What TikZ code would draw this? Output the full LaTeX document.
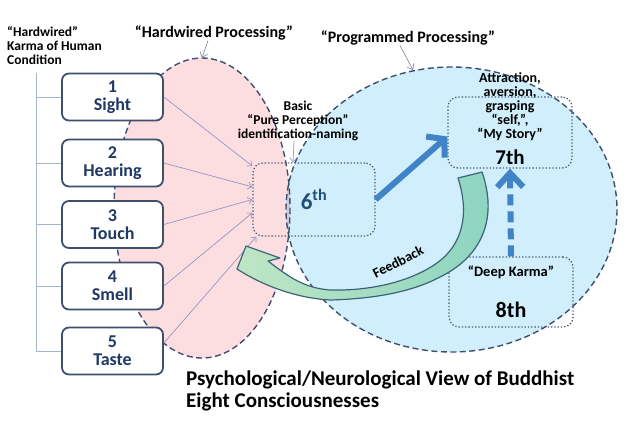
\documentclass[tikz,border=0pt]{standalone}
\usepackage{fontspec}
\setmainfont{Carlito}
\usetikzlibrary{arrows.meta,calc,shapes.geometric}
\definecolor{pinkfill}{RGB}{252,221,224}
\definecolor{bluefill}{RGB}{208,238,251}
\definecolor{ellline}{RGB}{62,80,112}
\definecolor{boxline}{RGB}{62,80,110}
\definecolor{navy}{RGB}{31,56,100}
\definecolor{sixblue}{RGB}{31,78,121}
\definecolor{arrowblue}{RGB}{64,131,198}
\definecolor{thinarrow}{RGB}{150,150,195}
\definecolor{bracketcol}{RGB}{166,180,200}
\definecolor{dotline}{RGB}{74,90,120}
\definecolor{fbdark}{RGB}{60,100,120}
\definecolor{fblight}{RGB}{190,230,196}
\definecolor{fbteal}{RGB}{140,212,192}
\begin{document}
\begin{tikzpicture}[x=1pt,y=-1pt,
  sense/.style={draw=boxline, line width=1.8pt, rounded corners=7pt, fill=white,
    minimum width=101pt, minimum height=47pt, align=center, text=navy,
    font=\bfseries\fontsize{18}{18}\selectfont, inner sep=0pt},
  dotbox/.style={draw=dotline, line width=1.3pt, dash pattern=on 1.3pt off 2pt, rounded corners=10pt},
  ellborder/.style={draw=ellline, line width=1.4pt, dash pattern=on 6pt off 3.5pt},
  thinarr/.style={draw=thinarrow, line width=0.7pt, -{Straight Barb[length=4pt,width=7pt]}},
  labelarr/.style={draw=ellline!70, line width=0.6pt, -{Straight Barb[length=5pt,width=8pt]}},
  bigarr/.style={draw=arrowblue, line width=6pt},
  lbl/.style={font=\bfseries\fontsize{14}{14}\selectfont, align=center, inner sep=0pt}
]
\useasboundingbox (0,0) rectangle (632,424);

% ellipses
\fill[pinkfill] (202,208) ellipse [x radius=88, y radius=150];
\begin{scope}[blend mode=multiply]
\fill[bluefill] (451.5,209.5) ellipse [x radius=165.5, y radius=142.5];
\end{scope}
\draw[ellborder] (202,208) ellipse [x radius=88, y radius=150];
\draw[ellborder] (451.5,209.5) ellipse [x radius=165.5, y radius=142.5];
\coordinate (pinktop) at (202,58);
\coordinate (bluept) at (413,70);

% sense boxes
\node[sense] (s1) at (112.5,97) {1\\Sight};
\node[sense] (s2) at (112.5,163) {2\\Hearing};
\node[sense] (s3) at (112.5,224.5) {3\\Touch};
\node[sense] (s4) at (112.5,286) {4\\Smell};
\node[sense] (s5) at (112.5,351) {5\\Taste};

% bracket
\coordinate (btop) at (36,73);
\draw[bracketcol, line width=1pt] (btop) -- (btop |- s5.west);
\foreach \s in {s1,s2,s3,s4,s5}
  \draw[bracketcol, line width=1pt] (btop |- \s.west) -- (\s.west);

% consciousness boxes
\node[dotbox, minimum width=122pt, minimum height=73pt, text=sixblue,
  font=\bfseries\fontsize{23}{24}\selectfont] (six) at (314,199.5) {6\textsuperscript{th}};
\node[dotbox, minimum width=124pt, minimum height=71pt] (sevenbox) at (510,132.5) {};
\node[dotbox, minimum width=124pt, minimum height=70pt] (eightbox) at (511,292) {};

\node[lbl, font=\bfseries\fontsize{21}{22}\selectfont] (seventh) at (510,157) {7th};
\node[lbl] (attr) at (510,107) {Attraction,\\aversion,\\grasping\\“self,”,\\“My Story”};
\node[lbl, font=\bfseries\fontsize{14.5}{15}\selectfont] (deep) at (511,272) {“Deep Karma”};
\node[lbl, font=\bfseries\fontsize{22}{22}\selectfont] (eighth) at (511,310) {8th};

% labels
\node[lbl, anchor=west, align=left, font=\bfseries\fontsize{13.5}{14}\selectfont] (hwk) at (7,46) {“Hardwired”\\Karma of Human\\Condition};
\node[lbl, font=\bfseries\fontsize{16}{16}\selectfont] (hwp) at (214,33) {“Hardwired Processing”};
\node[lbl, font=\bfseries\fontsize{16}{16}\selectfont] (pp) at (408,38) {“Programmed Processing”};
\node[lbl, font=\bfseries\fontsize{13.5}{14}\selectfont] (basic) at (298,121) {Basic\\“Pure Perception”\\identification-naming};
\node[lbl, anchor=west, align=left, font=\bfseries\fontsize{21}{22}\selectfont] (title) at (186,391)
  {Psychological/Neurological View of Buddhist\\Eight Consciousnesses};

% thin arrows
\draw[labelarr] ([xshift=-6pt]hwp.south) -- (pinktop);
\draw[labelarr] ([xshift=-8pt]pp.south) -- (bluept);
\draw[thinarr] ([xshift=-4pt]basic.south) -- ($(six.north west)!0.33!(six.north east)$);
\draw[thinarr] (s1.east) -- ($(six.north west)!0.05!(six.south west)$);
\draw[thinarr] (s2.east) -- ($(six.north west)!0.33!(six.south west)$);
\draw[thinarr] (s3.east) -- ($(six.north west)!0.5!(six.south west)$);
\draw[thinarr] (s4.east) -- ($(six.north west)!0.68!(six.south west)$);
\draw[thinarr] ([yshift=8pt]s5.east) -- ($(six.south west)+(4,0)$);

% blue arrows
\draw[bigarr, -{Straight Barb[length=12pt,width=28pt]}] (six.east) -- ([yshift=-4pt]sevenbox.west);
\draw[bigarr, dash pattern=on 11pt off 6pt, -{Straight Barb[length=14pt,width=26pt]}] (eightbox.north) -- (sevenbox.south);

% feedback arrow
\shadedraw[left color=fblight, right color=fbteal, draw=fbdark, line width=1.2pt, line join=round]
  (482,172) .. controls (497,215) and (485,255) .. (440,277)
  .. controls (410,293) and (370,299) .. (330,300)
  .. controls (295,298) and (262,285) .. (237,269)
  -- (246,246) -- (280,258) -- (268,261)
  .. controls (290,278) and (305,288) .. (330,290)
  .. controls (370,291) and (410,282) .. (437,263)
  .. controls (462,245) and (470,215) .. (458,178) -- cycle;
\node[lbl, rotate=27] (fb) at (398,262) {Feedback};
\end{tikzpicture}
\end{document}
